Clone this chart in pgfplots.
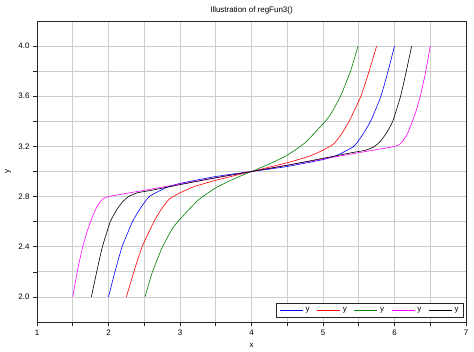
\documentclass[border=0pt]{standalone}
\usepackage{fontspec}
\setmainfont{Liberation Sans}
\usepackage{pgfplots}
\pgfplotsset{compat=1.18}
\definecolor{ggreen}{RGB}{0,128,0}
\definecolor{mag}{RGB}{255,0,255}
\definecolor{gridgray}{RGB}{205,205,205}
\begin{document}
\begin{tikzpicture}
\begin{axis}[
  scale only axis, width=429bp, height=301bp,
  xmin=1, xmax=7, ymin=1.8, ymax=4.2,
  xtick={1,2,3,4,5,6,7}, minor xtick={1.5,2.5,3.5,4.5,5.5,6.5},
  ytick={2.0,2.4,2.8,3.2,3.6,4.0}, minor ytick={2.2,2.6,3.0,3.4,3.8},
  yticklabel style={/pgf/number format/.cd, fixed, fixed zerofill, precision=1},
  /pgf/number format/assume math mode=true,
  xtick pos=left, ytick pos=left,
  tick align=outside, major tick length=4bp, minor tick length=4bp,
  grid=both,
  major grid style={gridgray, line width=0.7bp},
  minor grid style={gridgray, line width=0.7bp},
  axis line style={black!85, line width=0.9bp},
  tick style={black!85, line width=0.6bp},
  tick label style={font=\fontsize{8}{9}\selectfont},
  title={Illustration of regFun3()},
  title style={font=\fontsize{8}{9}\selectfont, at={(axis description cs:0.5,1)}, anchor=base, yshift=3bp},
  xlabel={x}, ylabel={y},
  xlabel style={font=\fontsize{8}{9}\selectfont, at={(axis description cs:0.5,0)}, anchor=center, yshift=-23bp},
  ylabel style={font=\fontsize{8}{9}\selectfont, at={(axis description cs:-0.0676,0.5)}, anchor=center},
  legend columns=5,
  legend style={at={(axis description cs:1,0)}, anchor=south east, xshift=-2bp, yshift=4.5bp,
    draw=black!85, line width=0.9bp, font=\fontsize{8}{9}\selectfont,
    /tikz/every even column/.append style={column sep=5bp}},
  legend cell align=left,
  legend image code/.code={\draw[#1, line width=1.3bp] (0bp,0bp) -- (23bp,0bp);},
  every axis plot/.append style={line width=0.6bp, no markers},
]
\addplot[blue, smooth, tension=0.3] coordinates {
(2.0,2.0)(2.09,2.2)(2.19,2.4)(2.335,2.6)(2.45,2.71)(2.57,2.8)(2.8,2.87)(3.0,2.905)(3.5,2.96)(4,3)
(4.5,3.04)(5.0,3.095)(5.2,3.13)(5.43,3.2)(5.55,3.29)(5.665,3.4)(5.81,3.6)(5.91,3.8)(6.0,4.0)};
\addlegendentry{y}
\addplot[red, smooth, tension=0.3] coordinates {
(2.25,2.0)(2.355,2.2)(2.47,2.4)(2.635,2.6)(2.74,2.7)(2.85,2.78)(3.0,2.83)(3.2,2.88)(3.5,2.93)(4,3)
(4.5,3.07)(4.8,3.12)(5.0,3.17)(5.15,3.22)(5.26,3.3)(5.365,3.4)(5.53,3.6)(5.645,3.8)(5.75,4.0)};
\addlegendentry{y}
\addplot[ggreen, smooth, tension=0.3] coordinates {
(2.51,2.0)(2.615,2.2)(2.755,2.4)(2.9,2.55)(3.0,2.62)(3.25,2.77)(3.5,2.87)(3.75,2.94)(4,3)
(4.25,3.06)(4.5,3.13)(4.75,3.23)(5.0,3.38)(5.1,3.45)(5.245,3.6)(5.385,3.8)(5.49,4.0)};
\addlegendentry{y}
\addplot[mag, smooth, tension=0.3] coordinates {
(1.5,2.0)(1.54,2.13)(1.58,2.25)(1.64,2.4)(1.7,2.52)(1.75,2.6)(1.82,2.7)(1.9,2.77)(2.0,2.8)(2.5,2.85)(3.0,2.9)(3.5,2.95)(4,3)
(4.5,3.05)(5.0,3.1)(5.5,3.15)(6.0,3.2)(6.1,3.23)(6.18,3.3)(6.25,3.4)(6.3,3.48)(6.36,3.6)(6.42,3.75)(6.46,3.87)(6.5,4.0)};
\addlegendentry{y}
\addplot[black, smooth, tension=0.3] coordinates {
(1.76,2.0)(1.835,2.2)(1.915,2.4)(2.025,2.6)(2.12,2.7)(2.2,2.76)(2.28,2.8)(2.4,2.83)(2.6,2.85)(3.0,2.895)(3.5,2.95)(4,3)
(4.5,3.05)(5.0,3.105)(5.4,3.15)(5.6,3.17)(5.72,3.2)(5.8,3.24)(5.88,3.3)(5.975,3.4)(6.085,3.6)(6.165,3.8)(6.24,4.0)};
\addlegendentry{y}
\end{axis}
\pgfresetboundingbox
\path ([shift={(-37bp,-29bp)}]current axis.south west) rectangle ([shift={(8bp,21bp)}]current axis.north east);
\end{tikzpicture}
\end{document}
